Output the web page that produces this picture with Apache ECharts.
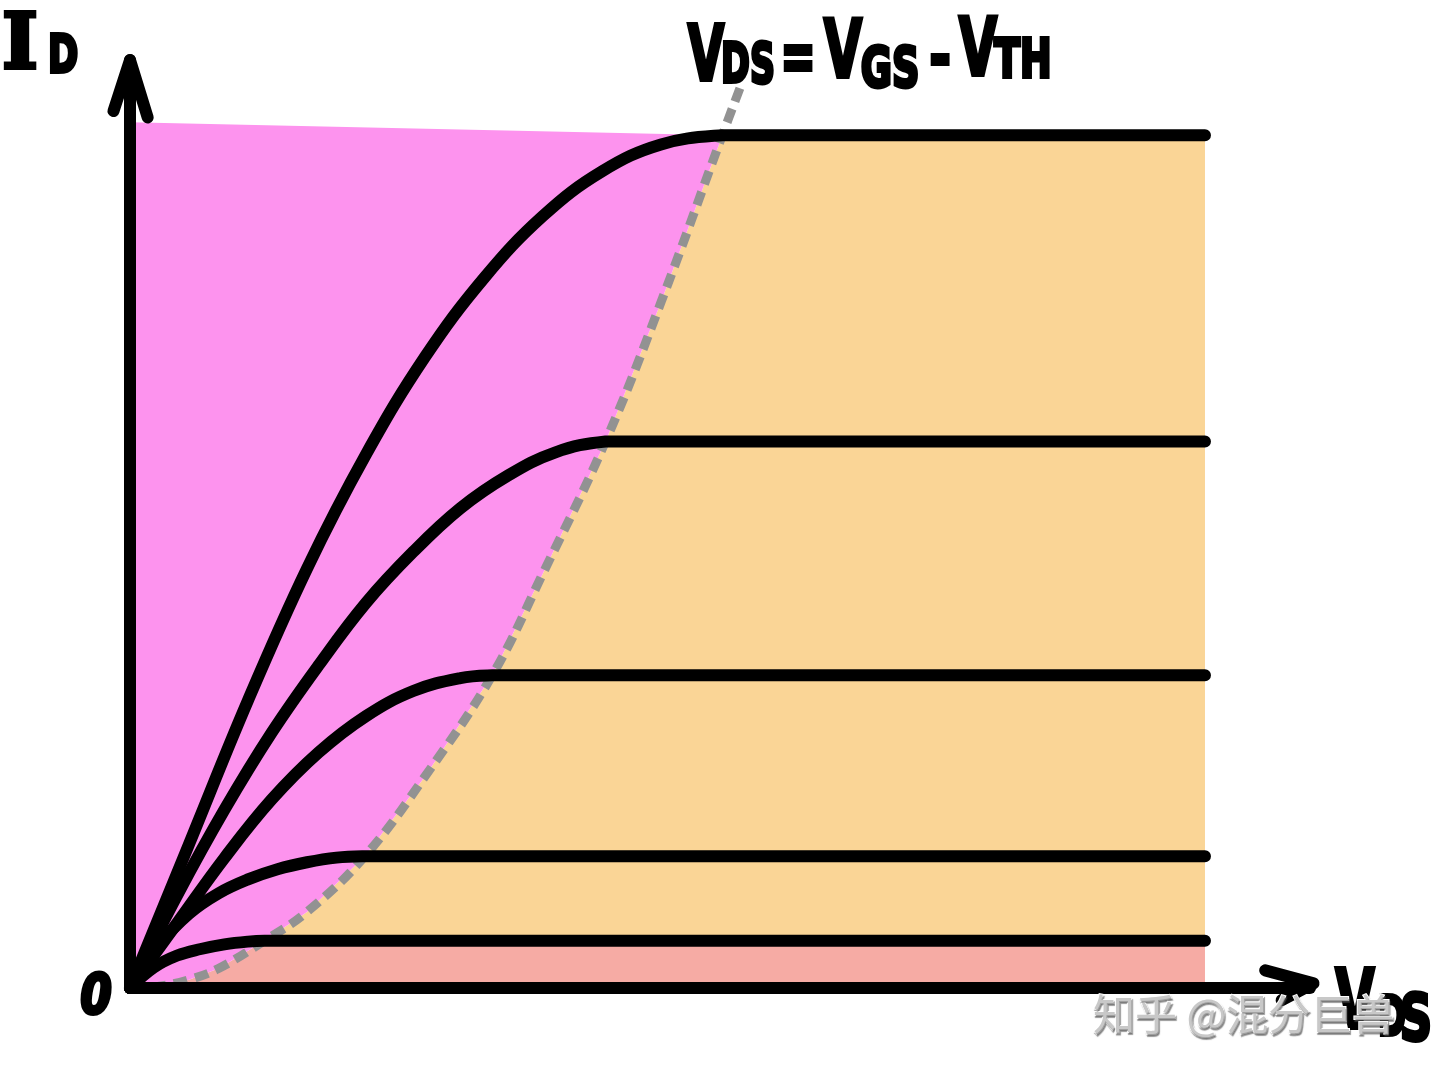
<!DOCTYPE html>
<html><head><meta charset="utf-8">
<script src="https://cdn.jsdelivr.net/npm/echarts@6/dist/echarts.min.js"></script>
<style>html,body{margin:0;padding:0;background:#fff}#c{width:1440px;height:1073px}</style>
</head><body><div id="c"></div>
<script>
// Output characteristic curves: [Vds, Id] (axis units 0..10)
const curveVov5 = [[0,0],[0.5,1.55],[1.0,3.1],[1.5,4.52],[2.0,5.75],[2.5,6.8],[3.0,7.65],[3.5,8.32],[4.0,8.8],[4.5,9.09],[5.02,9.19],[5.5,9.19],[9.11,9.19]];
const curveVov4 = [[0,0],[0.4,1.0],[0.8,1.92],[1.2,2.75],[1.6,3.48],[2.0,4.15],[2.4,4.7],[2.8,5.17],[3.2,5.52],[3.6,5.77],[4.03,5.89],[4.5,5.89],[9.11,5.89]];
const curveVov3 = [[0,0],[0.4,0.7],[0.8,1.4],[1.2,2.03],[1.6,2.54],[2.0,2.93],[2.4,3.2],[2.8,3.34],[3.07,3.37],[3.5,3.37],[9.11,3.37]];
const curveVov2 = [[0,0],[0.25,0.47],[0.5,0.8],[0.75,1.02],[1.0,1.17],[1.25,1.28],[1.5,1.355],[1.75,1.405],[1.99,1.42],[2.4,1.42],[9.11,1.42]];
const curveVov1 = [[0,0],[0.2,0.22],[0.4,0.35],[0.6,0.42],[0.8,0.47],[1.0,0.5],[1.14,0.51],[1.5,0.51],[9.11,0.51]];
// Vds = Vgs - Vth locus (dashed)
const boundary = [[0,0],[0.25,0.02],[0.5,0.09],[0.75,0.21],[1.14,0.51],[1.5,0.82],[1.99,1.42],[2.5,2.28],[3.07,3.37],[3.5,4.47],[4.03,5.89],[4.5,7.39],[5.02,9.19],[5.17,9.7]];
const pinkTopEdge = [[0,9.33],[5.02,9.19]];
const rightEdgeVds = 9.11;
const yArrow = [[-0.14,9.45],[0,10],[0.15,9.38]];
const xArrow = [[9.62,0.19],[10.03,0.05],[9.76,-0.13]];
const axisMax = 10;

const topKnee = [5.02, 9.19];
const lowKnee = [1.14, 0.51];

const chart = echarts.init(document.getElementById('c'), null, {renderer:'canvas'});

function polySeries(pts, color, z) {
  return {type:'custom', coordinateSystem:'cartesian2d', data:[[0,0]], z:z, silent:true, clip:false,
    renderItem:(p, api)=>({type:'polygon', shape:{points: pts.map(q=>api.coord(q))}, style:{fill:color}})};
}
function strokeSeries(pts, z, style, smooth) {
  return {type:'custom', coordinateSystem:'cartesian2d', data:[[0,0]], z:z, silent:true, clip:false,
    renderItem:(p, api)=>{
      const px = pts.map(q=>api.coord(q));
      const xs = px.map(q=>q[0]), ys = px.map(q=>q[1]);
      const box = [[Math.min.apply(null,xs), Math.min.apply(null,ys)],[Math.max.apply(null,xs), Math.max.apply(null,ys)]];
      return {type:'polyline', shape:{points: px, smooth:smooth||0, smoothConstraint: smooth ? box : null},
        style:Object.assign({fill:null, lineCap:'round', lineJoin:'round'}, style)};
    }};
}
const BLACK = {stroke:'#000', lineWidth:12};
const pinkPts = [[0,0]].concat(pinkTopEdge, boundary.filter(q=>q[0]<=topKnee[0]).slice().reverse());
const orangePts = boundary.filter(q=>q[0]>=lowKnee[0] && q[0]<=topKnee[0]).concat([[rightEdgeVds, topKnee[1]],[rightEdgeVds, lowKnee[1]]]);
const salmonPts = boundary.filter(q=>q[0]<=lowKnee[0]).concat([[rightEdgeVds, lowKnee[1]],[rightEdgeVds, 0]]);

function txt(s, cx, cy, fs, sx, family, opt) {
  opt = opt || {};
  return {type:'text', x:cx, y:cy, scaleX:sx, z:50,
    style:{text:s, font:(opt.italic?'italic ':'') + 'bold ' + fs + 'px ' + family, fill:'#000',
      textAlign:'center', textVerticalAlign:'middle', align:'center', verticalAlign:'middle',
      stroke:'#000', lineWidth:opt.lw==null?4:opt.lw, lineJoin:'round'}};
}
const SANS = '"DejaVu Sans", sans-serif';
const SERIF = '"DejaVu Serif", serif';

chart.setOption({
  animation:false,
  grid:{left:130, right:130, top:60, bottom:85},
  xAxis:{type:'value', min:0, max:axisMax, z:10,
    axisLine:{show:true, onZero:false, lineStyle:{color:'#000', width:12, cap:'round'}},
    axisTick:{show:false}, axisLabel:{show:false}, splitLine:{show:false}},
  yAxis:{type:'value', min:0, max:axisMax, z:10,
    axisLine:{show:true, onZero:false, lineStyle:{color:'#000', width:12, cap:'round'}},
    axisTick:{show:false}, axisLabel:{show:false}, splitLine:{show:false}},
  series:[
    polySeries(salmonPts, '#F6ABA4', 1),
    polySeries(orangePts, '#FAD596', 1),
    polySeries(pinkPts, '#FD93EE', 1),
    strokeSeries(boundary, 5, {stroke:'#929292', lineWidth:9, lineDash:[14,8], lineCap:'butt'}, 0.4),
    strokeSeries(curveVov5, 6, BLACK, 0.4),
    strokeSeries(curveVov4, 6, BLACK, 0.4),
    strokeSeries(curveVov3, 6, BLACK, 0.4),
    strokeSeries(curveVov2, 6, BLACK, 0.4),
    strokeSeries(curveVov1, 6, BLACK, 0.4),
    strokeSeries(yArrow, 12, BLACK, 0),
    strokeSeries(xArrow, 12, BLACK, 0)
  ],
  graphic:[
    txt('I', 20, 48, 76, 1.0, SERIF),
    txt('D', 63, 58, 52, 0.7, SANS),
    txt('V', 706, 60, 76, 0.62, SANS),
    txt('DS', 748, 67, 56, 0.62, SANS),
    txt('=', 798, 62, 70, 0.6, SANS),
    txt('V', 843, 56, 80, 0.62, SANS),
    txt('GS', 890, 71, 56, 0.68, SANS),
    txt('-', 940, 61, 64, 0.8, SANS),
    txt('V', 978, 54, 80, 0.62, SANS),
    txt('TH', 1023, 63, 54, 0.7, SANS),
    txt('0', 96, 998, 56, 0.8, SANS, {italic:true}),
    txt('V', 1355, 1007, 82, 0.62, SANS),
    txt('D', 1392, 1020, 56, 0.6, SANS),
    txt('S', 1416, 1023, 64, 0.7, SANS),
    {type:'text', x:1093, y:1014, z:100,
      style:{text:'知乎 @混分巨兽', font:'42px "Noto Sans CJK SC"', fill:'#c8c8c8',
        textAlign:'left', textVerticalAlign:'middle', align:'left', verticalAlign:'middle',
        stroke:'#ffffff', lineWidth:2,
        shadowColor:'rgba(80,80,80,0.55)', shadowOffsetX:1, shadowOffsetY:2, shadowBlur:1,
        textShadowColor:'rgba(80,80,80,0.55)', textShadowOffsetX:1, textShadowOffsetY:2, textShadowBlur:1}}
  ]
});
</script></body></html>
